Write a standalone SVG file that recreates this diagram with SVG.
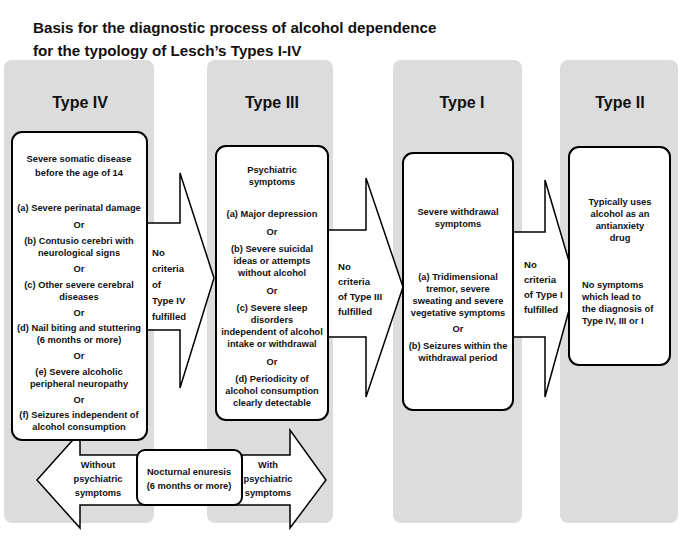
<svg xmlns="http://www.w3.org/2000/svg" width="685" height="537" viewBox="0 0 685 537">
<style>
text{font-family:"Liberation Sans",Arial,sans-serif;font-weight:bold;fill:#111}
.t{font-size:15.2px}
.h{font-size:16px;text-anchor:middle}
.s{font-size:9.3px;text-anchor:middle}
.l{font-size:9.6px}
.col{fill:#dcdcdc}
.box{fill:#fff;stroke:#000;stroke-width:2}
.arr{fill:#fff;stroke:#000;stroke-width:1.5;stroke-linejoin:miter}
</style>
<rect width="685" height="537" fill="#fff"/>
<text class="t" x="33" y="33">Basis for the diagnostic process of alcohol dependence</text>
<text class="t" x="33" y="56">for the typology of Lesch’s Types I-IV</text>
<rect class="col" x="4" y="60" width="150" height="463" rx="8"/>
<rect class="col" x="207" y="60" width="126" height="463" rx="8"/>
<rect class="col" x="393" y="60" width="129" height="463" rx="8"/>
<rect class="col" x="560" y="60" width="118" height="463" rx="8"/>
<text class="h" x="80" y="108">Type IV</text>
<text class="h" x="272" y="108">Type III</text>
<text class="h" x="462" y="108">Type I</text>
<text class="h" x="620" y="108">Type II</text>
<g id="connectors">
<path class="arr" d="M140,223 H180 V173 L214,278 L180,388 V330 H140 Z"/>
<path class="arr" d="M320,230 H366 V178 L403,287 L366,397 V337 H320 Z"/>
<path class="arr" d="M505,232 H545 V180 L576,285 L545,397 V337 H505 Z"/>
<path class="arr" d="M37,480 L80,432 V455 H290 V430 L326,480 L290,528 V505 H80 V528 Z"/>
<text class="l" x="152" y="256">No</text>
<text class="l" x="152" y="272">criteria</text>
<text class="l" x="152" y="288">of</text>
<text class="l" x="152" y="304">Type IV</text>
<text class="l" x="152" y="320">fulfilled</text>
<text class="l" x="338" y="270">No</text>
<text class="l" x="338" y="285">criteria</text>
<text class="l" x="338" y="300">of Type III</text>
<text class="l" x="338" y="315">fulfilled</text>
<text class="l" x="524" y="268">No</text>
<text class="l" x="524" y="283">criteria</text>
<text class="l" x="524" y="298">of Type I</text>
<text class="l" x="524" y="313">fulfilled</text>
<text class="s" x="98" y="468">Without</text>
<text class="s" x="98" y="482">psychiatric</text>
<text class="s" x="98" y="496">symptoms</text>
<text class="s" x="268" y="468">With</text>
<text class="s" x="268" y="482">psychiatric</text>
<text class="s" x="268" y="496">symptoms</text>
</g>
<g id="type4">
<rect class="box" x="12" y="132" width="135" height="308" rx="10"/>
<text class="s" x="79" y="162">Severe somatic disease</text>
<text class="s" x="79" y="176">before the age of 14</text>
<text class="s" x="79" y="211">(a) Severe perinatal damage</text>
<text class="s" x="79" y="228">Or</text>
<text class="s" x="79" y="244">(b) Contusio cerebri with</text>
<text class="s" x="79" y="256">neurological signs</text>
<text class="s" x="79" y="272">Or</text>
<text class="s" x="79" y="288">(c) Other severe cerebral</text>
<text class="s" x="79" y="300">diseases</text>
<text class="s" x="79" y="316">Or</text>
<text class="s" x="79" y="331">(d) Nail biting and stuttering</text>
<text class="s" x="79" y="343">(6 months or more)</text>
<text class="s" x="79" y="359">Or</text>
<text class="s" x="79" y="375">(e) Severe alcoholic</text>
<text class="s" x="79" y="387">peripheral neuropathy</text>
<text class="s" x="79" y="403">Or</text>
<text class="s" x="79" y="418">(f) Seizures independent of</text>
<text class="s" x="79" y="430">alcohol consumption</text>
</g>
<g id="type3">
<rect class="box" x="216" y="146" width="112" height="274" rx="10"/>
<text class="s" x="272" y="173">Psychiatric</text>
<text class="s" x="272" y="185">symptoms</text>
<text class="s" x="272" y="217">(a) Major depression</text>
<text class="s" x="272" y="235">Or</text>
<text class="s" x="272" y="252">(b) Severe suicidal</text>
<text class="s" x="272" y="264">ideas or attempts</text>
<text class="s" x="272" y="276">without alcohol</text>
<text class="s" x="272" y="294">Or</text>
<text class="s" x="272" y="311">(c) Severe sleep</text>
<text class="s" x="272" y="323">disorders</text>
<text class="s" x="272" y="335">independent of alcohol</text>
<text class="s" x="272" y="347">intake or withdrawal</text>
<text class="s" x="272" y="365">Or</text>
<text class="s" x="272" y="382">(d) Periodicity of</text>
<text class="s" x="272" y="394">alcohol consumption</text>
<text class="s" x="272" y="406">clearly detectable</text>
</g>
<g id="type1">
<rect class="box" x="403" y="153" width="110" height="257" rx="10"/>
<text class="s" x="458" y="215">Severe withdrawal</text>
<text class="s" x="458" y="227">symptoms</text>
<text class="s" x="458" y="280">(a) Tridimensional</text>
<text class="s" x="458" y="292">tremor, severe</text>
<text class="s" x="458" y="304">sweating and severe</text>
<text class="s" x="458" y="316">vegetative symptoms</text>
<text class="s" x="458" y="332">Or</text>
<text class="s" x="458" y="349">(b) Seizures within the</text>
<text class="s" x="458" y="361">withdrawal period</text>
</g>
<g id="type2">
<rect class="box" x="569" y="147" width="101" height="218" rx="10"/>
<text class="s" x="620" y="205">Typically uses</text>
<text class="s" x="620" y="217">alcohol as an</text>
<text class="s" x="620" y="229">antianxiety</text>
<text class="s" x="620" y="241">drug</text>
<text class="l" x="582" y="288" style="font-size:9.3px">No symptoms</text>
<text class="l" x="582" y="300" style="font-size:9.3px">which lead to</text>
<text class="l" x="582" y="312" style="font-size:9.3px">the diagnosis of</text>
<text class="l" x="582" y="324" style="font-size:9.3px">Type IV, III or I</text>
</g>
<g id="enuresis">
<rect class="box" x="137" y="450" width="105" height="55" rx="8"/>
<text class="s" x="189" y="475">Nocturnal enuresis</text>
<text class="s" x="189" y="489">(6 months or more)</text>
</g>
</svg>
